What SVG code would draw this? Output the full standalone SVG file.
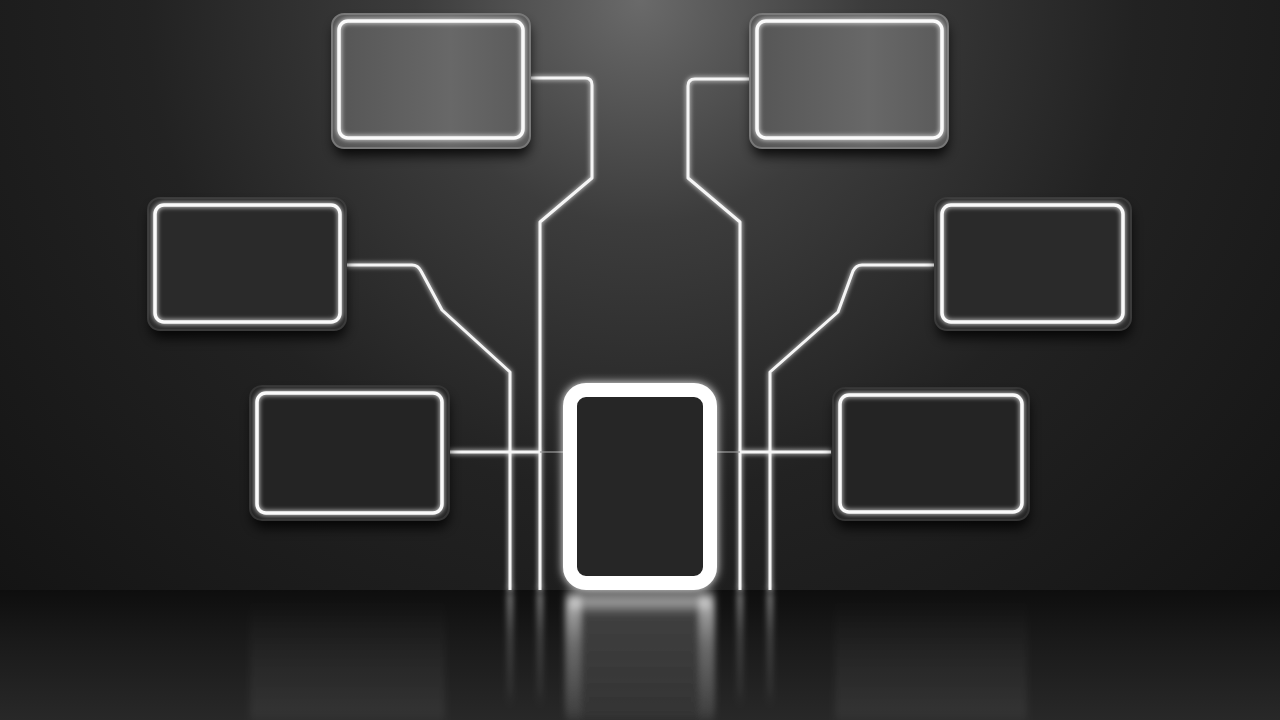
<svg xmlns="http://www.w3.org/2000/svg" width="1280" height="720" viewBox="0 0 1280 720">
<defs>
<radialGradient id="bg" cx="640" cy="0" r="900" gradientUnits="userSpaceOnUse">
<stop offset="0" stop-color="#6a6a6a"/>
<stop offset="0.25" stop-color="#3c3c3c"/>
<stop offset="0.55" stop-color="#222"/>
<stop offset="1" stop-color="#131313"/>
</radialGradient>
<linearGradient id="floor" x1="0" y1="590" x2="0" y2="720" gradientUnits="userSpaceOnUse">
<stop offset="0" stop-color="#0e0e0e"/>
<stop offset="0.4" stop-color="#1a1a1a"/>
<stop offset="1" stop-color="#282828"/>
</linearGradient>
<linearGradient id="topPanel" x1="0" y1="0" x2="1" y2="0">
<stop offset="0" stop-color="#555"/>
<stop offset="0.6" stop-color="#686868"/>
<stop offset="1" stop-color="#5a5a5a"/>
</linearGradient>
<linearGradient id="refl" x1="0" y1="0" x2="0" y2="1">
<stop offset="0" stop-color="#fff" stop-opacity="0.75"/>
<stop offset="0.4" stop-color="#fff" stop-opacity="0.3"/>
<stop offset="1" stop-color="#fff" stop-opacity="0.05"/>
</linearGradient>
<linearGradient id="reflBox" x1="0" y1="0" x2="0" y2="1">
<stop offset="0" stop-color="#4a4a4a" stop-opacity="0.9"/>
<stop offset="1" stop-color="#3a3a3a" stop-opacity="0.7"/>
</linearGradient>
<linearGradient id="reflFaint" x1="0" y1="0" x2="0" y2="1">
<stop offset="0" stop-color="#fff" stop-opacity="0"/>
<stop offset="0.5" stop-color="#fff" stop-opacity="0.04"/>
<stop offset="1" stop-color="#fff" stop-opacity="0.06"/>
</linearGradient>
<filter id="glow" filterUnits="userSpaceOnUse" x="0" y="0" width="1280" height="720">
<feGaussianBlur in="SourceGraphic" stdDeviation="2.5" result="b"/>
<feMerge><feMergeNode in="b"/><feMergeNode in="SourceGraphic"/></feMerge>
</filter>
<filter id="glowBig" x="-30%" y="-30%" width="160%" height="160%">
<feGaussianBlur in="SourceGraphic" stdDeviation="5" result="b"/>
<feMerge><feMergeNode in="b"/><feMergeNode in="SourceGraphic"/></feMerge>
</filter>
<filter id="shadow" x="-20%" y="-20%" width="140%" height="160%">
<feGaussianBlur stdDeviation="6"/>
</filter>
<filter id="blurV" filterUnits="userSpaceOnUse" x="0" y="560" width="1280" height="160">
<feGaussianBlur stdDeviation="3 6"/>
</filter>
</defs>
<style>
.outline{fill:none;stroke:#fafafa;stroke-width:3.5;filter:url(#glow)}
.shadow{fill:#050505;opacity:0.8;filter:url(#shadow)}
.panelTop{fill:url(#topPanel);stroke:#787878;stroke-width:2}
.panelMid{fill:#2a2a2a;stroke:#3a3a3a;stroke-width:2}
.panelBot{fill:#242424;stroke:#343434;stroke-width:2}
.conn{fill:none;stroke:#f5f5f5;stroke-width:3;stroke-linejoin:round;filter:url(#glow)}
.dim{fill:none;stroke:#9a9a9a;stroke-width:2;opacity:0.6}
</style>
<rect x="0" y="0" width="1280" height="720" fill="url(#bg)"/>
<rect x="0" y="590" width="1280" height="130" fill="url(#floor)"/>
<g id="reflections" filter="url(#blurV)">
<rect x="250" y="600" width="195" height="120" fill="url(#reflFaint)"/>
<rect x="835" y="600" width="192" height="120" fill="url(#reflFaint)"/>
<rect x="566" y="594" width="148" height="126" rx="14" fill="url(#reflBox)"/>
<rect x="565" y="594" width="16" height="126" fill="url(#refl)" opacity="0.8"/>
<rect x="699" y="594" width="16" height="126" fill="url(#refl)" opacity="0.8"/>
<rect x="570" y="594" width="140" height="12" fill="#fff" opacity="0.55"/>
<rect x="508" y="590" width="4" height="110" fill="url(#refl)"/>
<rect x="538" y="590" width="4" height="110" fill="url(#refl)"/>
<rect x="738" y="590" width="4" height="110" fill="url(#refl)"/>
<rect x="768" y="590" width="4" height="110" fill="url(#refl)"/>
</g>
<g id="connectors">
<path class="conn" d="M530,78 H585 Q592,78 592,85 V178 L540,222 V590"/>
<path class="conn" d="M750,79 H695 Q688,79 688,86 V178 L740,222 V590"/>
<path class="conn" d="M346,265 H412 Q418,265 421,271 L442,310 L510,372 V590"/>
<path class="conn" d="M934,265 H862 Q856,265 853,271 L838,312 L770,372 V590"/>
<path class="conn" d="M448,452 H540"/>
<path class="dim" d="M540,452 H563"/>
<path class="conn" d="M740,452 H831"/>
<path class="dim" d="M717,452 H740"/>
</g>
<g id="node-top-left">
<rect class="shadow" x="334" y="22" width="196" height="134" rx="12"/>
<rect class="panelTop" x="332" y="14" width="198" height="134" rx="12"/>
<rect class="outline" x="339" y="21" width="184" height="117" rx="9"/>
</g>
<g id="node-top-right">
<rect class="shadow" x="752" y="22" width="196" height="134" rx="12"/>
<rect class="panelTop" x="750" y="14" width="198" height="134" rx="12"/>
<rect class="outline" x="757" y="21" width="185" height="117" rx="9"/>
</g>
<g id="node-mid-left">
<rect class="shadow" x="150" y="206" width="196" height="132" rx="12"/>
<rect class="panelMid" x="148" y="198" width="198" height="132" rx="12"/>
<rect class="outline" x="155" y="205" width="185" height="117" rx="9"/>
</g>
<g id="node-mid-right">
<rect class="shadow" x="937" y="206" width="194" height="132" rx="12"/>
<rect class="panelMid" x="935" y="198" width="196" height="132" rx="12"/>
<rect class="outline" x="942" y="205" width="181" height="117" rx="9"/>
</g>
<g id="node-bottom-left">
<rect class="shadow" x="252" y="394" width="197" height="134" rx="12"/>
<rect class="panelBot" x="250" y="386" width="199" height="134" rx="12"/>
<rect class="outline" x="257" y="393" width="185" height="120" rx="9"/>
</g>
<g id="node-bottom-right">
<rect class="shadow" x="835" y="396" width="194" height="132" rx="12"/>
<rect class="panelBot" x="833" y="388" width="196" height="132" rx="12"/>
<rect class="outline" x="840" y="395" width="182" height="117" rx="9"/>
</g>
<g id="node-center">
<rect x="570" y="390" width="140" height="193" rx="16" fill="#272727" stroke="#ffffff" stroke-width="14" filter="url(#glowBig)"/>
</g>
</svg>
